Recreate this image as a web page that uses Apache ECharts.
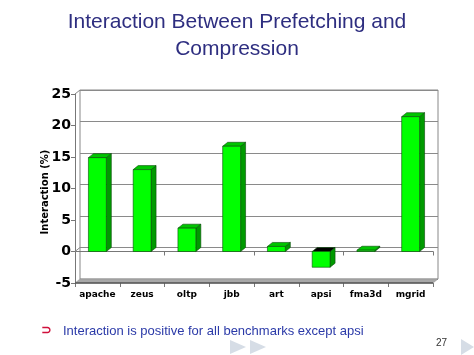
<!DOCTYPE html>
<html>
<head>
<meta charset="utf-8">
<script src="https://cdn.jsdelivr.net/npm/echarts@6/dist/echarts.min.js"></script>
<style>html,body{margin:0;padding:0;background:#fff;}#c{width:474px;height:355px;}</style>
</head>
<body>
<div id="c"></div>
<script>
const categories = ['apache', 'zeus', 'oltp', 'jbb', 'art', 'apsi', 'fma3d', 'mgrid'];
const interaction = [14.9, 13.0, 3.7, 16.7, 0.8, -2.5, 0.2, 21.4];
const yTicks = { min: -5, max: 25, interval: 5 };

const DX = 5, DY = -4;
const chart = echarts.init(document.getElementById('c'));

function renderFloor(params, api) {
  const band = api.size([1, 0])[0];
  const n = categories.length;
  const pL = api.coord([0, yTicks.min]);
  const pR = api.coord([n - 1, yTicks.min]);
  const left = pL[0] - band / 2, right = pR[0] + band / 2;
  const yF = pL[1];
  const y0 = api.coord([0, 0])[1];
  const yT = api.coord([0, yTicks.max])[1];
  const line = (x1, y1, x2, y2, c, w) => ({ type: 'line', shape: { x1, y1, x2, y2 }, style: { stroke: c, lineWidth: w } });
  return {
    type: 'group',
    children: [
      { type: 'polygon', shape: { points: [[left, yF], [right, yF], [right + DX, yF + DY], [left + DX, yF + DY]] }, style: { fill: '#a8a8a8', stroke: '#888', lineWidth: 0.5 } },
      line(left, yF, right, yF, '#555', 1.5),
      line(left, y0, left + DX, y0 + DY, '#888', 1),
      line(left, yT, left + DX, yT + DY, '#888', 1)
    ]
  };
}

function renderBar(params, api) {
  const i = api.value(0), v = api.value(1);
  const p0 = api.coord([i, 0]);
  const p1 = api.coord([i, v]);
  const bw = api.size([1, 0])[0] * 0.4;
  const x1 = p0[0] - bw / 2, x2 = p0[0] + bw / 2;
  let yTop = Math.min(p0[1], p1[1]);
  let yBot = Math.max(p0[1], p1[1]);
  if (yBot - yTop < 1) yTop = yBot - 1;
  const edge = '#0a4a0a';
  return {
    type: 'group',
    children: [
      { type: 'polygon', shape: { points: [[x2, yTop], [x2 + DX, yTop + DY], [x2 + DX, yBot + DY], [x2, yBot]] }, style: { fill: '#009a00', stroke: edge, lineWidth: 0.6 } },
      { type: 'polygon', shape: { points: [[x1, yTop], [x1 + DX, yTop + DY], [x2 + DX, yTop + DY], [x2, yTop]] }, style: { fill: v < 0 ? '#000000' : '#00c400', stroke: edge, lineWidth: 0.6 } },
      { type: 'rect', shape: { x: x1, y: yTop, width: bw, height: yBot - yTop }, style: { fill: '#00ff00', stroke: edge, lineWidth: 0.6 } }
    ]
  };
}

const option = {
  animation: false,
  title: {
    text: 'Interaction Between Prefetching and\nCompression',
    left: 'center',
    top: 4,
    textStyle: { fontFamily: 'Liberation Sans', fontSize: 21, fontWeight: 'normal', color: '#2e2e80', lineHeight: 27 }
  },
  grid: [
    { left: 80, right: 36, top: 90, height: 189, show: true, borderColor: '#888', borderWidth: 1, backgroundColor: '#fff' },
    { left: 75, right: 41, top: 94, height: 189 }
  ],
  xAxis: [
    { type: 'category', gridIndex: 0, data: categories, show: false },
    { type: 'category', gridIndex: 1, data: categories, position: 'bottom',
      axisLine: { onZero: true, lineStyle: { color: '#777', width: 1 } },
      axisTick: { show: true, length: 4, lineStyle: { color: '#777' } },
      axisLabel: { show: false } },
    { type: 'category', gridIndex: 1, data: categories, position: 'bottom',
      axisLine: { onZero: false, show: false },
      axisTick: { show: true, length: 4, lineStyle: { color: '#777' } },
      axisLabel: { interval: 0, fontFamily: 'DejaVu Sans', fontWeight: 'bold', fontSize: 9, color: '#000', margin: 7 } }
  ],
  yAxis: [
    { type: 'value', gridIndex: 0, min: yTicks.min, max: yTicks.max, interval: yTicks.interval,
      axisLine: { show: false }, axisTick: { show: false }, axisLabel: { show: false },
      splitLine: { show: true, lineStyle: { color: '#8a8a8a', width: 1 } } },
    { type: 'value', gridIndex: 1, min: yTicks.min, max: yTicks.max, interval: yTicks.interval,
      axisLine: { show: true, lineStyle: { color: '#777', width: 1 } },
      axisTick: { show: true, length: 4, lineStyle: { color: '#777' } },
      axisLabel: { fontFamily: 'DejaVu Sans', fontWeight: 'bold', fontSize: 14, color: '#000', margin: 4 },
      splitLine: { show: false } }
  ],
  series: [
    { type: 'custom', xAxisIndex: 1, yAxisIndex: 1, data: [[0, yTicks.min]], renderItem: renderFloor, silent: true, z: 1 },
    { type: 'custom', xAxisIndex: 1, yAxisIndex: 1, data: interaction.map((v, i) => [i, v]), renderItem: renderBar, z: 5 }
  ],
  graphic: [
    { type: 'text', x: 45, y: 192, rotation: Math.PI / 2, style: { text: 'Interaction (%)', fontFamily: 'DejaVu Sans', fontWeight: 'bold', fontSize: 10, fill: '#000', align: 'center', verticalAlign: 'middle' } },
    { type: 'text', x: 41, y: 331, style: { text: '⊃', fontFamily: 'DejaVu Sans', fontWeight: 'bold', fontSize: 13, fill: '#d0103c', verticalAlign: 'middle' } },
    { type: 'text', x: 63, y: 331, style: { text: 'Interaction is positive for all benchmarks except apsi', fontFamily: 'Liberation Sans', fontSize: 13, fill: '#2b3aa8', verticalAlign: 'middle' } },
    { type: 'text', x: 436, y: 343, style: { text: '27', fontFamily: 'Liberation Sans', fontSize: 10, fill: '#333', verticalAlign: 'middle' } },
    { type: 'polygon', shape: { points: [[230, 340], [230, 354], [246, 347]] }, style: { fill: '#d6dde6' } },
    { type: 'polygon', shape: { points: [[250, 340], [250, 354], [266, 347]] }, style: { fill: '#d6dde6' } },
    { type: 'polygon', shape: { points: [[461, 339], [461, 355], [474, 347]] }, style: { fill: '#d6dde6' } }
  ]
};
chart.setOption(option);
</script>
</body>
</html>
